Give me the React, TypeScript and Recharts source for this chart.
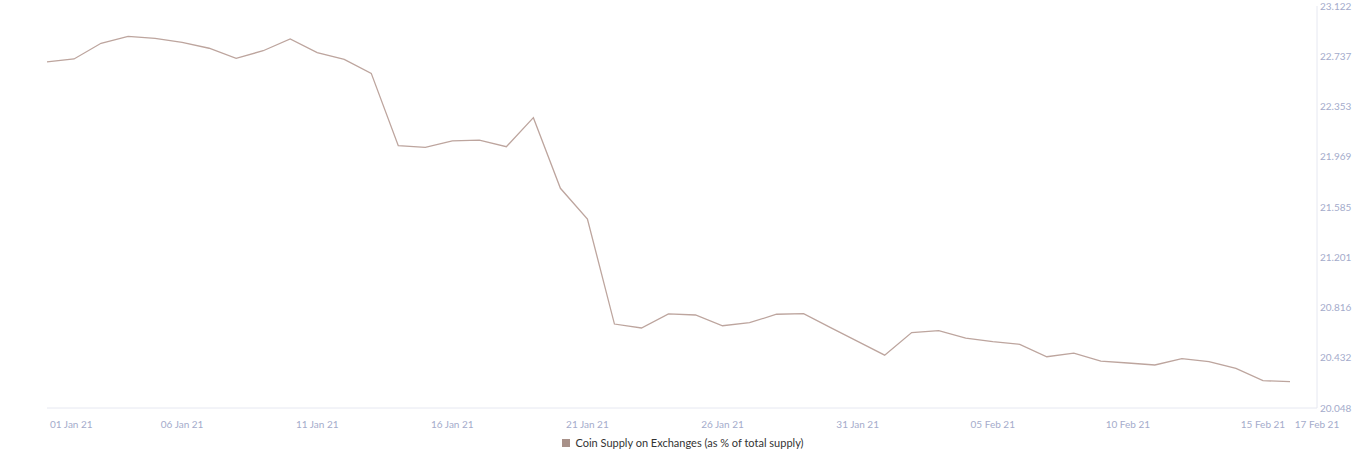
import React from 'react';
import { LineChart, Line, XAxis, YAxis, Legend } from 'recharts';

// Daily dates, 01 Jan 21 .. 17 Feb 21 (17 Feb is the axis end, no value)
const dates = [
  '01 Jan 21', '02 Jan 21', '03 Jan 21', '04 Jan 21', '05 Jan 21', '06 Jan 21', '07 Jan 21', '08 Jan 21',
  '09 Jan 21', '10 Jan 21', '11 Jan 21', '12 Jan 21', '13 Jan 21', '14 Jan 21', '15 Jan 21', '16 Jan 21',
  '17 Jan 21', '18 Jan 21', '19 Jan 21', '20 Jan 21', '21 Jan 21', '22 Jan 21', '23 Jan 21', '24 Jan 21',
  '25 Jan 21', '26 Jan 21', '27 Jan 21', '28 Jan 21', '29 Jan 21', '30 Jan 21', '31 Jan 21', '01 Feb 21',
  '02 Feb 21', '03 Feb 21', '04 Feb 21', '05 Feb 21', '06 Feb 21', '07 Feb 21', '08 Feb 21', '09 Feb 21',
  '10 Feb 21', '11 Feb 21', '12 Feb 21', '13 Feb 21', '14 Feb 21', '15 Feb 21', '16 Feb 21', '17 Feb 21',
];

// Coin supply on exchanges, % of total supply
const supply = [
  22.694, 22.717, 22.837, 22.890, 22.875, 22.844, 22.799, 22.722,
  22.780, 22.870, 22.765, 22.714, 22.607, 22.054, 22.041, 22.090,
  22.097, 22.046, 22.268, 21.728, 21.493, 20.690, 20.660, 20.767,
  20.759, 20.677, 20.700, 20.765, 20.769, 20.663, 20.557, 20.452,
  20.625, 20.639, 20.583, 20.555, 20.535, 20.440, 20.468, 20.407,
  20.392, 20.377, 20.425, 20.402, 20.351, 20.257, 20.249, null,
];

const xTicks = ['01 Jan 21', '06 Jan 21', '11 Jan 21', '16 Jan 21', '21 Jan 21', '26 Jan 21', '31 Jan 21', '05 Feb 21', '10 Feb 21', '15 Feb 21', '17 Feb 21'];
const yTicks = [20.048, 20.432, 20.816, 21.201, 21.585, 21.969, 22.353, 22.737, 23.122];

const seriesName = 'Coin Supply on Exchanges (as % of total supply)';

const data = dates.map((date, i) => ({ date, value: supply[i] }));

const FONT = 'Lato, "Open Sans", sans-serif';
const TICK_COLOR = '#a4abcb';
const LINE_COLOR = '#bda59e';

const DateTick = (props: any) => {
  const { x, y, payload, index } = props;
  const first = index === 0;
  return (
    <text
      x={first ? x + 3 : x}
      y={y + 12}
      textAnchor={first ? 'start' : 'middle'}
      fontSize={10}
      fontFamily={FONT}
      fill={TICK_COLOR}
    >
      {payload.value}
    </text>
  );
};

const LegendContent = () => (
  <div style={{ textAlign: 'center', fontFamily: FONT, fontSize: 11, color: '#333', lineHeight: '26px' }}>
    <span style={{ display: 'inline-block', width: 8, height: 8, background: '#a89189', marginRight: 5 }} />
    {seriesName}
  </div>
);

export default function App() {
  return (
    <div style={{ position: 'absolute', left: 0, top: 0, background: '#fff' }}>
      <LineChart width={1366} height={462} data={data} margin={{ top: 6, right: 2, left: 47, bottom: 0 }}>
        <XAxis
          dataKey="date"
          ticks={xTicks}
          interval={0}
          tickLine={false}
          axisLine={{ stroke: '#e6e8f1' }}
          tick={<DateTick />}
          height={22}
        />
        <YAxis
          orientation="right"
          domain={[20.048, 23.122]}
          ticks={yTicks}
          tickFormatter={(v: number) => v.toFixed(3)}
          tickLine={false}
          tickSize={0}
          tickMargin={3}
          axisLine={{ stroke: '#e6e8f1' }}
          tick={{ fontSize: 10, fontFamily: FONT, fill: TICK_COLOR, textAnchor: 'start' }}
          width={47}
          allowDataOverflow
        />
        <Legend
          verticalAlign="bottom"
          height={32}
          content={<LegendContent />}
          wrapperStyle={{ left: 0, width: 1366 }}
        />
        <Line
          type="linear"
          dataKey="value"
          name={seriesName}
          stroke={LINE_COLOR}
          strokeWidth={1.3}
          dot={false}
          activeDot={false}
          isAnimationActive={false}
        />
      </LineChart>
    </div>
  );
}
